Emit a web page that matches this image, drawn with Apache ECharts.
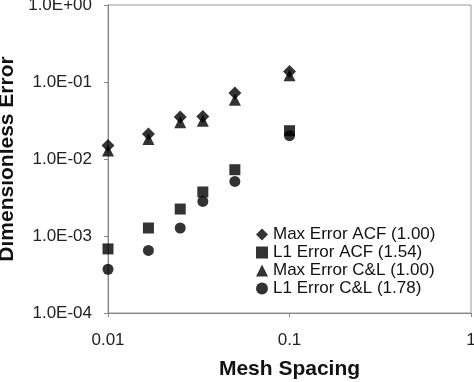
<!DOCTYPE html>
<html>
<head>
<meta charset="utf-8">
<script src="https://cdn.jsdelivr.net/npm/echarts@6/dist/echarts.min.js"></script>
<style>
html,body{margin:0;padding:0;background:#fff;}
#chart{width:474px;height:382px;}
</style>
</head>
<body>
<div id="chart"></div>
<script>
var meshSpacing = [0.01, 0.0167, 0.025, 0.0333, 0.05, 0.1];
var maxErrorACF = [0.0150, 0.0211, 0.0351, 0.0357, 0.0719, 0.137];
var l1ErrorACF  = [0.00068, 0.00127, 0.00224, 0.00373, 0.00726, 0.0233];
var maxErrorCL  = [0.0129, 0.0182, 0.0299, 0.0314, 0.0589, 0.122];
var l1ErrorCL   = [0.00037, 0.00065, 0.00127, 0.00281, 0.00512, 0.0201];
var seriesNames = ['Max Error ACF (1.00)', 'L1 Error ACF (1.54)', 'Max Error C&L (1.00)', 'L1 Error C&L (1.78)'];
var xTickLabels = ['0.01', '0.1', '1'];
var yTickLabels = ['1.0E-04', '1.0E-03', '1.0E-02', '1.0E-01', '1.0E+00'];

function pairs(ys){ return meshSpacing.map(function(x,i){ return [x, ys[i]]; }); }
var FONT = 'Liberation Sans, Arial, sans-serif';

var chart = echarts.init(document.getElementById('chart'));
chart.setOption({
  animation: false,
  backgroundColor: '#fff',
  grid: {left: 108, right: 3, top: 5, bottom: 69, show: true, borderColor: '#999', borderWidth: 1,
         containLabel: false, outerBoundsMode: 'none'},
  legend: {
    orient: 'vertical', left: 251, top: 221, itemWidth: 12, itemHeight: 12, itemGap: 1,
    textStyle: {fontFamily: FONT, fontSize: 17, color: '#111'},
    data: [
      {name: seriesNames[0], icon: 'diamond'},
      {name: seriesNames[1], icon: 'rect'},
      {name: seriesNames[2], icon: 'triangle'},
      {name: seriesNames[3], icon: 'circle'}
    ]
  },
  xAxis: {
    type: 'log', logBase: 10, min: 0.01, max: 1,
    name: 'Mesh Spacing', nameLocation: 'middle', nameGap: 46,
    nameTextStyle: {fontFamily: FONT, fontSize: 21, fontWeight: 'bold', color: '#111'},
    axisLine: {lineStyle: {color: '#888'}},
    axisTick: {show: true, length: 4, lineStyle: {color: '#888'}},
    splitLine: {show: false},
    axisLabel: {fontFamily: FONT, fontSize: 17, color: '#222', margin: 19,
      formatter: function(v){ var i = Math.round(Math.log10(v)) + 2; return xTickLabels[i] || ''; }}
  },
  yAxis: {
    type: 'log', logBase: 10, min: 0.0001, max: 1,
    name: 'Dimensionless Error', nameLocation: 'middle', nameGap: 88, nameRotate: 90,
    nameTextStyle: {fontFamily: FONT, fontSize: 21, fontWeight: 'bold', color: '#111'},
    axisLine: {lineStyle: {color: '#888'}},
    axisTick: {show: true, length: 4, lineStyle: {color: '#888'}},
    splitLine: {show: false},
    axisLabel: {fontFamily: FONT, fontSize: 17, color: '#222', margin: 16,
      formatter: function(v){ var i = Math.round(Math.log10(v)) + 4; return yTickLabels[i] || ''; }}
  },
  series: [
    {name: seriesNames[0], type: 'scatter', symbol: 'diamond', symbolSize: 13, itemStyle: {color: '#000'}, data: pairs(maxErrorACF)},
    {name: seriesNames[1], type: 'scatter', symbol: 'rect', symbolSize: 11, itemStyle: {color: '#000'}, data: pairs(l1ErrorACF)},
    {name: seriesNames[2], type: 'scatter', symbol: 'triangle', symbolSize: 12, itemStyle: {color: '#000'}, data: pairs(maxErrorCL)},
    {name: seriesNames[3], type: 'scatter', symbol: 'circle', symbolSize: 11, itemStyle: {color: '#000'}, data: pairs(l1ErrorCL)}
  ]
});
</script>
</body>
</html>
